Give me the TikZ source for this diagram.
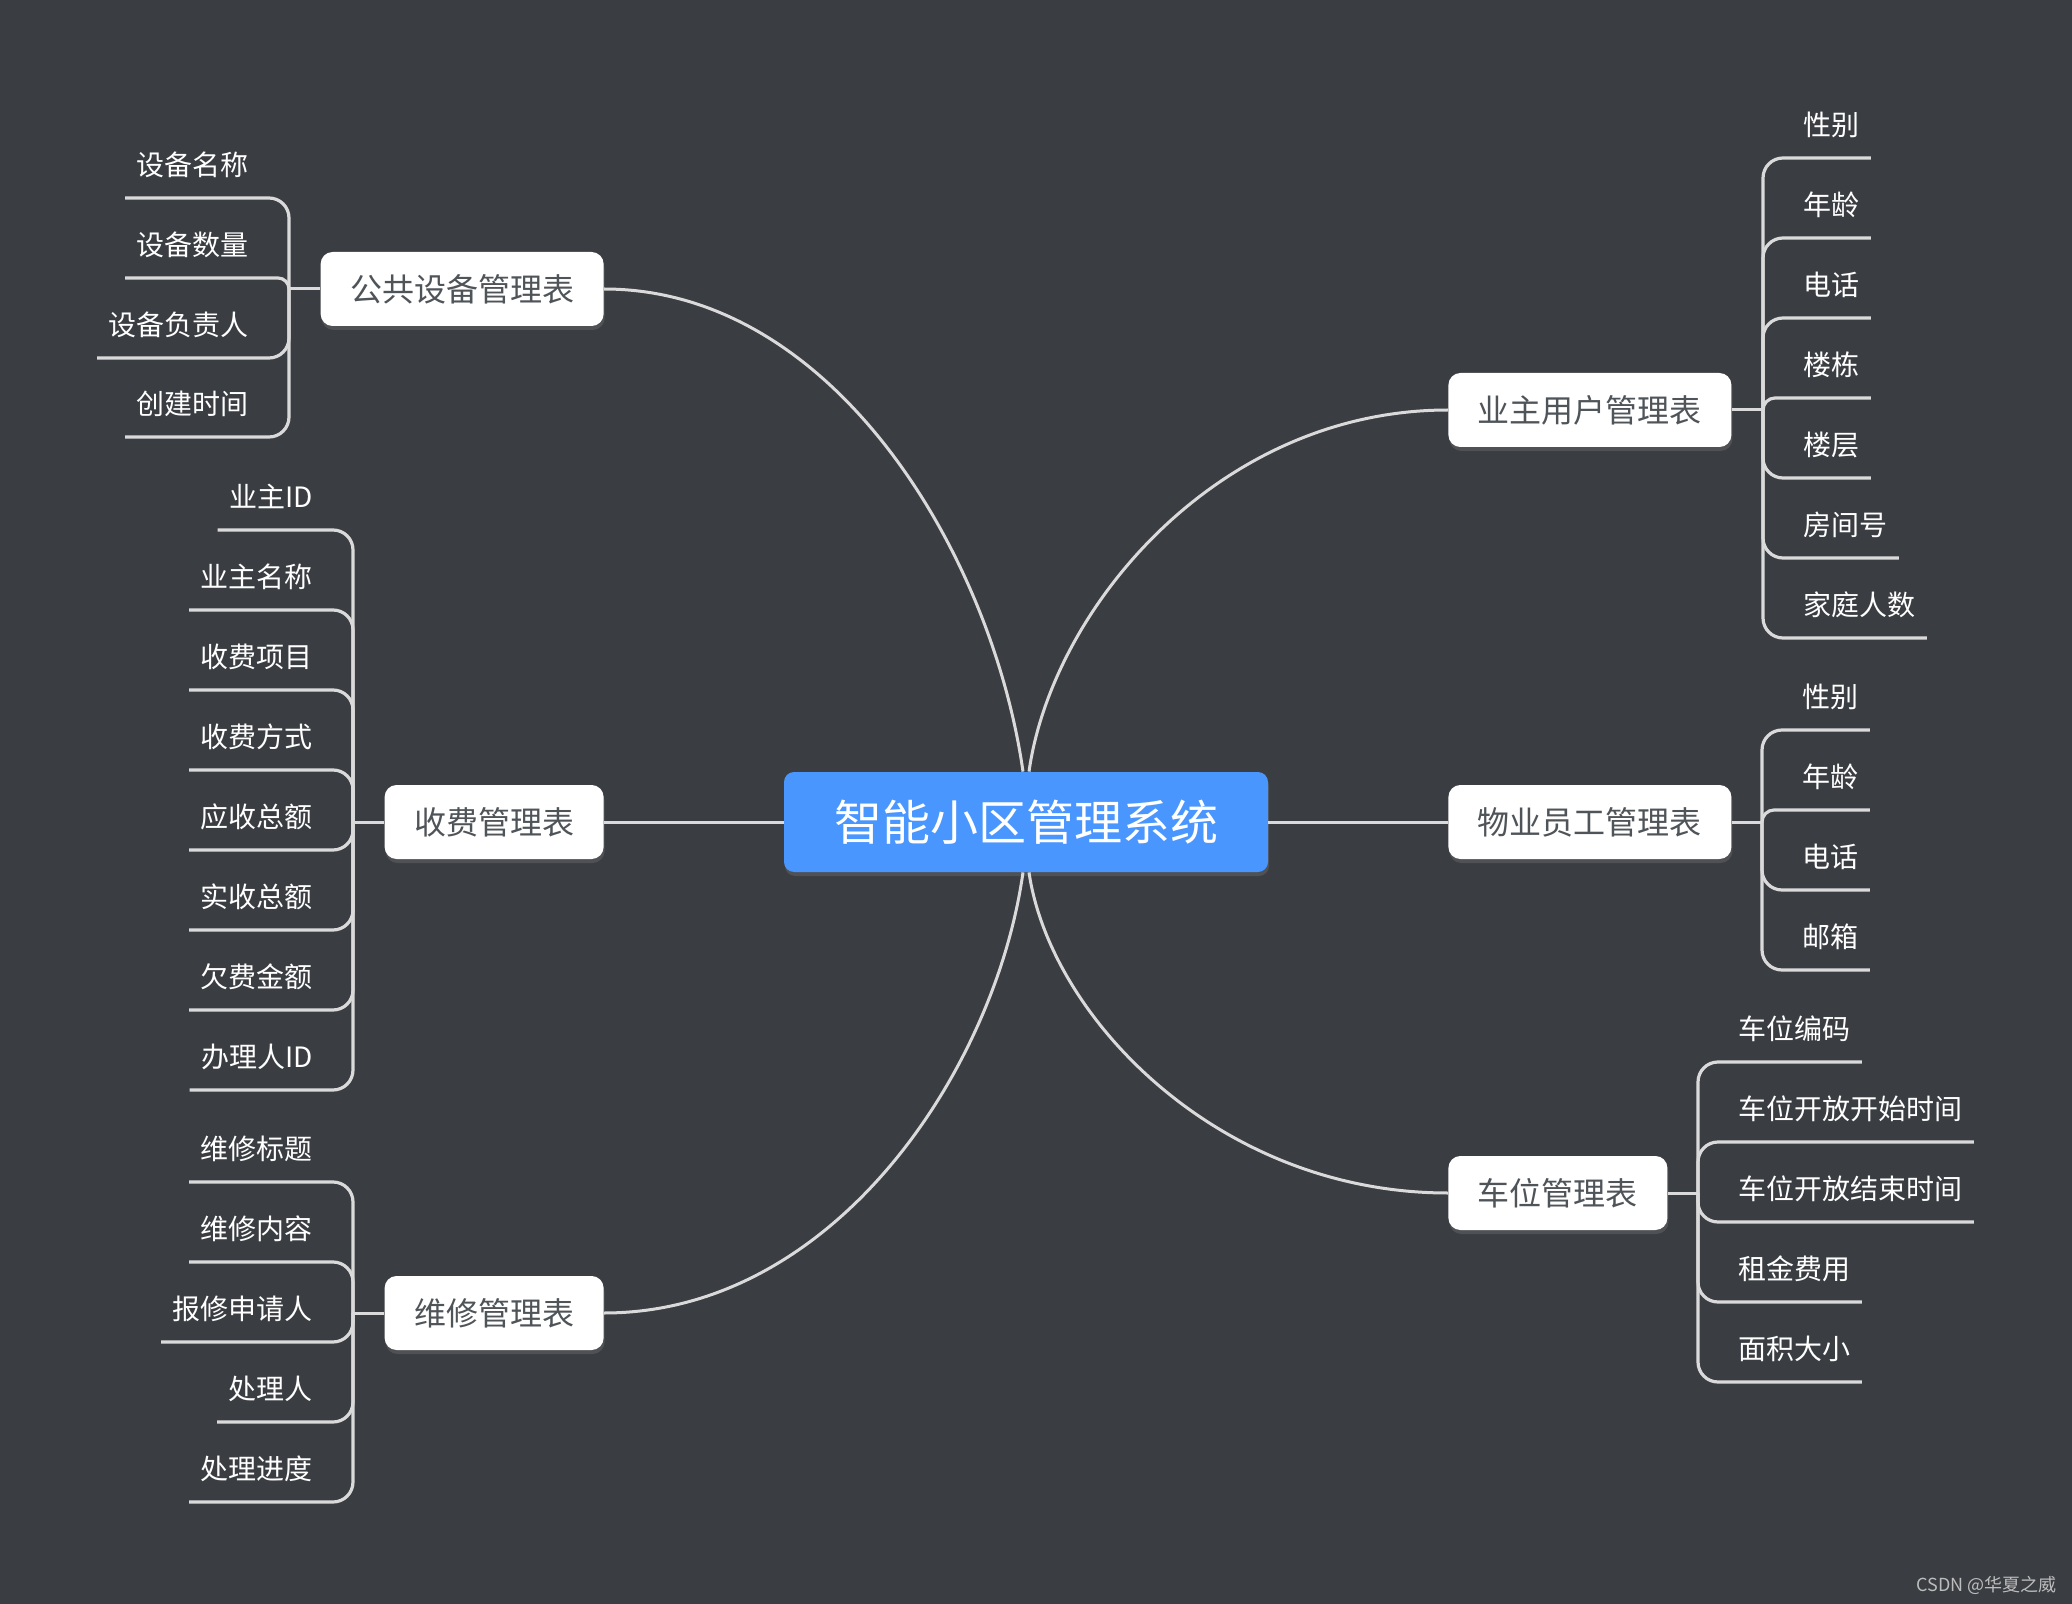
\documentclass[tikz,border=0pt]{standalone}
\usepackage{fontspec}
\setmainfont{Noto Sans CJK SC}
\usetikzlibrary{shadows}
\definecolor{bgc}{HTML}{3A3D42}
\definecolor{rootc}{HTML}{4A96FF}
\definecolor{linec}{HTML}{DADADA}
\definecolor{topicc}{HTML}{4F5459}
\definecolor{markc}{HTML}{BDBDBD}
\begin{document}
\begin{tikzpicture}[x=0.5pt,y=-0.5pt,
  rootbox/.style={rectangle, rounded corners=5pt, fill=rootc, text=white,
    font=\fontsize{24pt}{28pt}\selectfont, minimum width=242pt, minimum height=50pt,
    inner sep=0pt, text height=21.1pt, text depth=2.9pt,
    drop shadow={shadow xshift=0.5pt, shadow yshift=-2pt, opacity=0.3}},
  topic/.style={rectangle, rounded corners=6pt, fill=white, text=topicc,
    font=\fontsize{16pt}{19pt}\selectfont, inner xsep=14.75pt, inner ysep=0pt,
    minimum height=37pt, text height=14.1pt, text depth=1.9pt,
    drop shadow={shadow xshift=0.5pt, shadow yshift=-2pt, opacity=0.3}},
  leaf/.style={inner xsep=5.5pt, inner ysep=0pt, minimum height=33pt, text=white,
    font=\fontsize{14pt}{17pt}\selectfont, text height=12.3pt, text depth=1.7pt},
  trunk/.style={draw=linec, line width=1.5pt},
  twig/.style={draw=linec, line width=1.5pt},
  leafline/.style={draw=linec, line width=1.6pt}
]
\fill[bgc] (0,0) rectangle (2072,1604);
\useasboundingbox (0,0) rectangle (2072,1604);

% central topic
\node[rootbox] (root) at (1026,822) {智能小区管理系统};

% main topics
\node[topic, anchor=east] (pub) at (604,289) {公共设备管理表};
\node[topic, anchor=east] (fee) at (604,822) {收费管理表};
\node[topic, anchor=east] (rep) at (604,1313) {维修管理表};
\node[topic, anchor=west] (own) at (1448,410) {业主用户管理表};
\node[topic, anchor=west] (staff) at (1448,822) {物业员工管理表};
\node[topic, anchor=west] (park) at (1448,1193) {车位管理表};

% trunk connectors
\draw[trunk] (pub.east) .. controls +(230,0) and +(-31,-217) .. ([xshift=-1.5pt]root.north);
\draw[trunk] (own.west) .. controls +(-230,0) and +(23,-163) .. ([xshift=1.5pt]root.north);
\draw[trunk] (rep.east) .. controls +(230,0) and +(-28,198) .. ([xshift=-1.5pt]root.south);
\draw[trunk] (park.west) .. controls +(-230,0) and +(21,144) .. ([xshift=1.5pt]root.south);
\draw[trunk] (root.west) -- (fee.east);
\draw[trunk] (root.east) -- (staff.west);

% bracket points
\coordinate (ba) at (289,289);
\coordinate (bb) at (353,822);
\coordinate (bc) at (353,1313);
\coordinate (bd) at (1763,410);
\coordinate (be) at (1762,822);
\coordinate (bf) at (1698,1193);

\draw[twig] (pub.west) -- (ba);
\draw[twig] (fee.west) -- (bb);
\draw[twig] (rep.west) -- (bc);
\draw[twig] (own.east) -- (bd);
\draw[twig] (staff.east) -- (be);
\draw[twig] (park.east) -- (bf);

% left leaves
\foreach \n/\t/\y/\r in {a1/设备名称/198/10pt, a2/设备数量/278/5.5pt, a3/设备负责人/358/10pt, a4/创建时间/437/10pt}{
  \node[leaf, anchor=south east] (\n) at (260,\y) {\t};
  \draw[leafline, rounded corners=\r] (ba) -- (\n.south -| ba) -- (\n.south west);
}
\foreach \n/\t/\y/\r in {b1/业主ID/530/10pt, b2/业主名称/610/10pt, b3/收费项目/690/10pt, b4/收费方式/770/10pt, b5/应收总额/850/10pt, b6/实收总额/930/10pt, b7/欠费金额/1010/10pt, b8/办理人ID/1090/10pt}{
  \node[leaf, anchor=south east] (\n) at (324,\y) {\t};
  \draw[leafline, rounded corners=\r] (bb) -- (\n.south -| bb) -- (\n.south west);
}
\foreach \n/\t/\y/\r in {c1/维修标题/1182/10pt, c2/维修内容/1262/10pt, c3/报修申请人/1342/10pt, c4/处理人/1422/10pt, c5/处理进度/1502/10pt}{
  \node[leaf, anchor=south east] (\n) at (324,\y) {\t};
  \draw[leafline, rounded corners=\r] (bc) -- (\n.south -| bc) -- (\n.south west);
}

% right leaves
\foreach \n/\t/\y/\r in {d1/性别/158/10pt, d2/年龄/238/10pt, d3/电话/318/10pt, d4/楼栋/398/6pt, d5/楼层/478/10pt, d6/房间号/558/10pt, d7/家庭人数/638/10pt}{
  \node[leaf, anchor=south west] (\n) at (1792,\y) {\t};
  \draw[leafline, rounded corners=\r] (bd) -- (\n.south -| bd) -- (\n.south east);
}
\foreach \n/\t/\y/\r in {e1/性别/730/10pt, e2/年龄/810/6pt, e3/电话/890/10pt, e4/邮箱/970/10pt}{
  \node[leaf, anchor=south west] (\n) at (1791,\y) {\t};
  \draw[leafline, rounded corners=\r] (be) -- (\n.south -| be) -- (\n.south east);
}
\foreach \n/\t/\y/\r in {f1/车位编码/1062/10pt, f2/车位开放开始时间/1142/10pt, f3/车位开放结束时间/1222/10pt, f4/租金费用/1302/10pt, f5/面积大小/1382/10pt}{
  \node[leaf, anchor=south west] (\n) at (1727,\y) {\t};
  \draw[leafline, rounded corners=\r] (bf) -- (\n.south -| bf) -- (\n.south east);
}

% watermark
\node[font=\fontsize{9pt}{11pt}\selectfont, text=markc, anchor=east, inner sep=0pt] (wm) at (2057,1585) {CSDN @华夏之威};
\end{tikzpicture}
\end{document}
